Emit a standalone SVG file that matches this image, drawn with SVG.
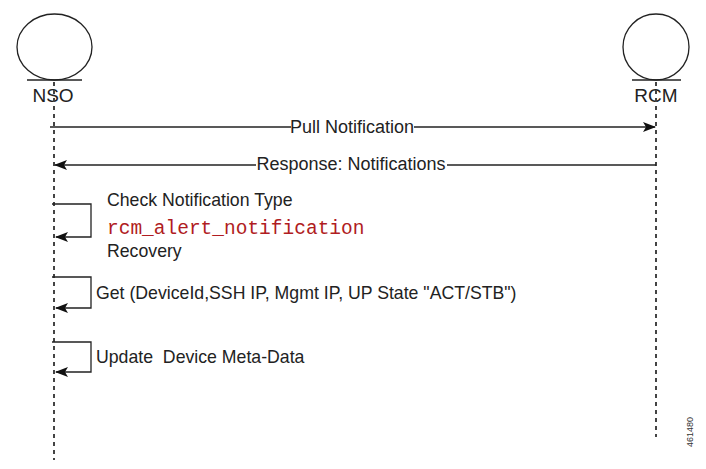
<svg xmlns="http://www.w3.org/2000/svg" width="706" height="469" viewBox="0 0 706 469">
<style>
.t{font-family:"Liberation Sans",Arial,sans-serif;font-size:17.7px;fill:#222}
.m{font-size:18px}
.a{font-size:19px}
.actor{fill:none;stroke:#222;stroke-width:1.3}
.life{stroke:#444;stroke-width:2;stroke-dasharray:4 4;fill:none}
.msg{stroke:#222;stroke-width:1.3;fill:none}
.lbg{fill:#fff}
</style>
<defs>
<marker id="ah" markerWidth="13" markerHeight="10" refX="12" refY="5" orient="auto" markerUnits="userSpaceOnUse">
<path d="M0,0 L13,5 L0,10 L3,5 Z" fill="#111"/>
</marker>
</defs>
<rect width="706" height="469" fill="#fff"/>
<g id="nso">
<ellipse class="actor" cx="54.5" cy="47" rx="37.5" ry="33"/>
<line class="actor" x1="27" y1="80" x2="82" y2="80"/>
<text class="t a" x="53" y="102" text-anchor="middle">NSO</text>
</g>
<g id="rcm">
<ellipse class="actor" cx="656" cy="47" rx="33" ry="33"/>
<line class="actor" x1="632" y1="80" x2="681" y2="80"/>
<text class="t a" x="656" y="102" text-anchor="middle">RCM</text>
</g>
<g id="lifelines">
<line class="life" x1="54" y1="82" x2="54" y2="460"/>
<line class="life" x1="656" y1="82" x2="656" y2="437"/>
</g>
<g id="connectors">
<line class="msg" x1="50" y1="127" x2="655" y2="127" marker-end="url(#ah)"/>
<line class="msg" x1="656" y1="165" x2="55" y2="165" marker-end="url(#ah)"/>
<path class="msg" d="M52,204 H91 V237 H56" marker-end="url(#ah)"/>
<path class="msg" d="M52,277 H91 V308 H56" marker-end="url(#ah)"/>
<path class="msg" d="M52,342 H91 V372 H56" marker-end="url(#ah)"/>
</g>
<g id="labels">
<rect class="lbg" x="291" y="119" width="123" height="16"/>
<text class="t m" x="352" y="133" text-anchor="middle">Pull Notification</text>
<rect class="lbg" x="256" y="157" width="191" height="16"/>
<text class="t m" x="351" y="170" text-anchor="middle">Response: Notifications</text>
<text class="t" x="107" y="206">Check Notification Type</text>
<text x="107" y="234" style="font-family:'Liberation Mono','Courier New',monospace;font-size:19.5px;fill:#b01c22">rcm_alert_notification</text>
<text class="t" x="107" y="257">Recovery</text>
<text class="t" x="96" y="299">Get (DeviceId,SSH IP, Mgmt IP, UP State "ACT/STB")</text>
<text class="t" x="96" y="363" xml:space="preserve" style="white-space:pre">Update  Device Meta-Data</text>
<text x="693" y="447" transform="rotate(-90 693 447)" style="font-family:'Liberation Sans',Arial,sans-serif;font-size:9px;fill:#333">461480</text>
</g>
</svg>
